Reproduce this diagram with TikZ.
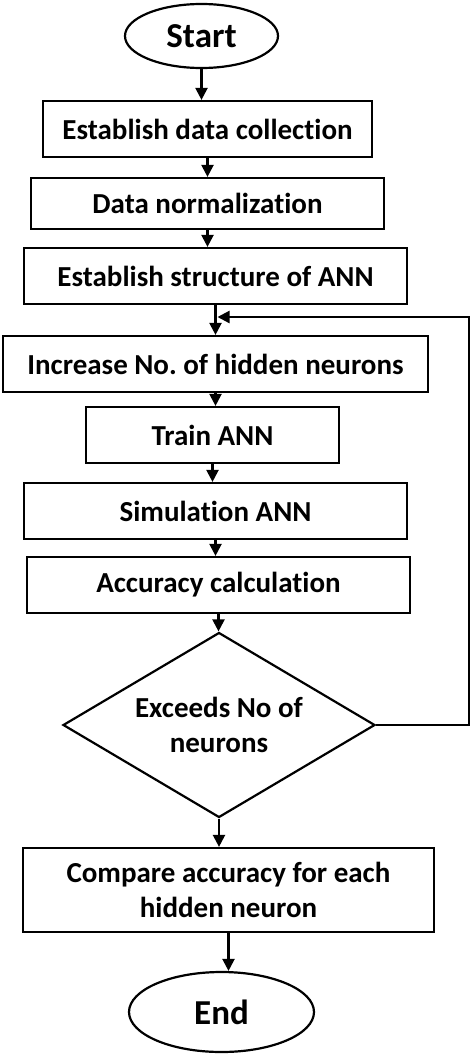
\documentclass[tikz,border=0pt]{standalone}
\usepackage{fontspec}
\setmainfont{Carlito}[Ligatures=NoCommon]
\usetikzlibrary{arrows.meta}
\usetikzlibrary{shapes.geometric}
\frenchspacing

\begin{document}
\begin{tikzpicture} [x=1pt, y=-1pt, line width=2.2pt,
  box/.style={draw, rectangle, inner sep=0pt, align=center, font=\fontsize{29}{35}\selectfont\bfseries},
  term/.style={draw, ellipse, inner sep=0pt, font=\fontsize{35}{40}\selectfont\bfseries},
  decide/.style={draw, diamond, aspect=1.69, inner sep=0pt, align=center, font=\fontsize{29}{35}\selectfont\bfseries},
  flow/.style={-{Triangle[length=12pt,width=12pt]}}]
\useasboundingbox (0,0) rectangle (473,1055);

\node[term, minimum width=153, minimum height=64] (start) at (201.5,36) {Start};
\node[box, minimum width=329, minimum height=56] (collect) at (207.5,129) {Establish data collection};
\node[box, minimum width=353, minimum height=51] (norm) at (207.5,203.5) {Data normalization};
\node[box, minimum width=383, minimum height=56] (struct) at (215.5,276) {Establish structure of ANN};
\node[box, minimum width=425, minimum height=56] (increase) at (215.5,364) {Increase No. of hidden neurons};
\node[box, minimum width=253, minimum height=56] (train) at (212.5,435) {Train ANN};
\node[box, minimum width=383, minimum height=56] (simul) at (215.5,511) {Simulation ANN};
\node[box, minimum width=383, minimum height=56] (acc) at (218.5,585) {Accuracy calculation};
\node[decide, minimum width=312, minimum height=185] (dec) at (219,725) {Exceeds No of\\neurons};
\node[box, minimum width=411, minimum height=84] (compare) at (228.5,890) {Compare accuracy for each\\hidden neuron};
\node[term, minimum width=185, minimum height=80] (end) at (221.5,1012) {End};

\foreach \a/\b in {start/collect, collect/norm, norm/struct, struct/increase, increase/train, train/simul, simul/acc, acc/dec, dec/compare, compare/end} \draw[flow] (\a.south) -- (\a.south |- \b.north);

\coordinate (join) at (217.5,317);
\draw[flow] (dec.east) -- ++(93,0) |- (join);

\end{tikzpicture}
\end{document}
